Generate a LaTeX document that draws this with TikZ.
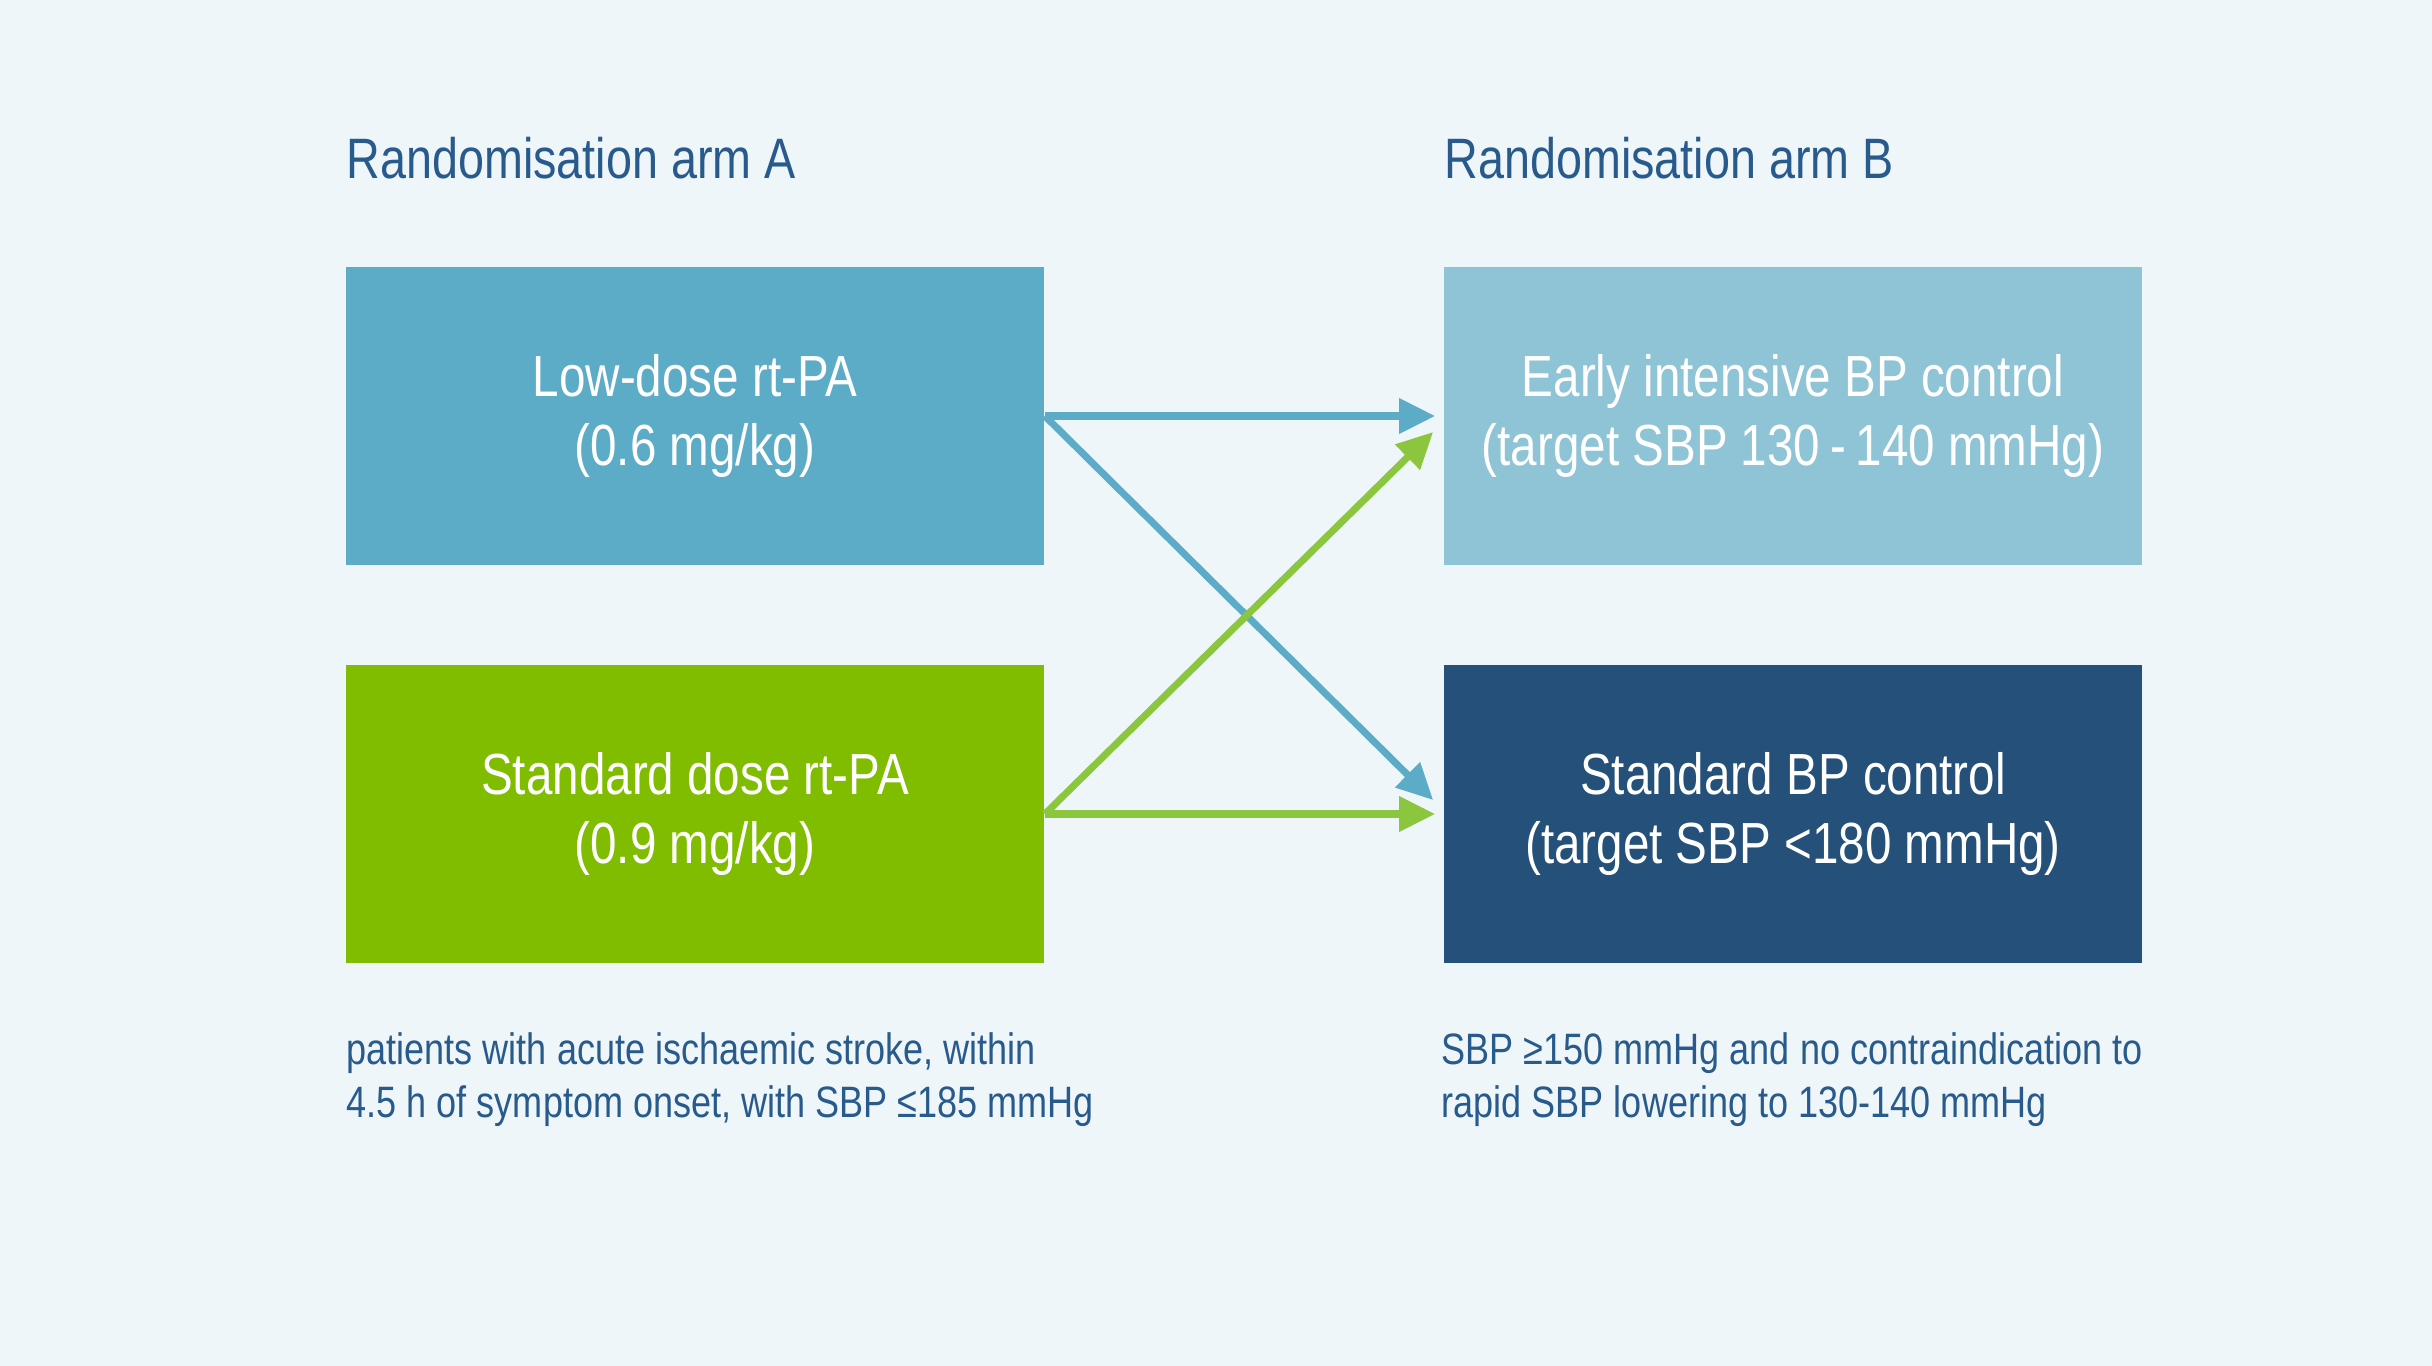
\documentclass[tikz,border=0pt]{standalone}
\usepackage{fontspec}
\setmainfont[FakeStretch=0.82]{Liberation Sans}
\usepackage{tikz}
\usetikzlibrary{arrows.meta,calc}
\definecolor{pagebg}{HTML}{EEF6FA}
\definecolor{armtext}{HTML}{285A8C}
\definecolor{lowcol}{HTML}{5DACC7}
\definecolor{stdcol}{HTML}{80BC00}
\definecolor{earlycol}{HTML}{8EC4D6}
\definecolor{bpcol}{HTML}{24507A}
\definecolor{greenarrow}{HTML}{8CC63F}
\tikzset{ %styles for the two randomisation arms
  armbox/.style={
    rectangle, minimum width=6.98cm, minimum height=2.98cm,
    text=white, align=center, inner sep=0pt,
    font=\fontsize{16.5}{19.5}\selectfont
  },
  armtitle/.style={anchor=base west, text=armtext, inner sep=0pt,
    font=\fontsize{16.2}{19}\selectfont},
  armnote/.style={anchor=north west, text=armtext, align=left, inner sep=0pt,
    font=\fontsize{12.5}{15}\selectfont},
  armarrow/.style={line width=2pt, -{Triangle[length=0.36cm,width=0.34cm]}}
}
\begin{document}
\begin{tikzpicture}[x=0.01cm,y=-0.01cm] % one unit is one pixel of the reference

\fill[pagebg] (0,0) rectangle (2432,1366);
\useasboundingbox (0,0) rectangle (2432,1366);

\node[armtitle] (titleA) at (346,178) {Randomisation arm A};
\node[armtitle] (titleB) at (1444,178) {Randomisation arm B};

\node[armbox, fill=lowcol] (lowdose) at (695,416) {Low-dose rt-PA\\(0.6 mg/kg)};
\node[armbox, fill=stdcol] (stddose) at (695,814) {Standard dose rt-PA\\(0.9 mg/kg)};
\node[armbox, fill=earlycol] (intensive) at (1793,416) {Early intensive BP control\\(target SBP 130\,-\,140 mmHg)};
\node[armbox, fill=bpcol] (stdbp) at (1793,814) {Standard BP control\\(target SBP <180 mmHg)};

\node[armnote] (noteA) at (346,1032) {patients with acute ischaemic stroke, within\\4.5 h of symptom onset, with SBP ≤185 mmHg};
\node[armnote] (noteB) at (1441,1032) {SBP ≥150 mmHg and no contraindication to\\rapid SBP lowering to 130-140 mmHg};

% arrows from arm A to arm B
\draw[armarrow, lowcol] (lowdose.east) -- ($(intensive.west)+(-8,0)$);
\draw[armarrow, lowcol] (lowdose.east) -- ($(stdbp.west)+(-10,-14)$);
\draw[armarrow, greenarrow] (stddose.east) -- ($(intensive.west)+(-10,16)$);
\draw[armarrow, greenarrow] (stddose.east) -- ($(stdbp.west)+(-8,0)$);

\end{tikzpicture}
\end{document}
